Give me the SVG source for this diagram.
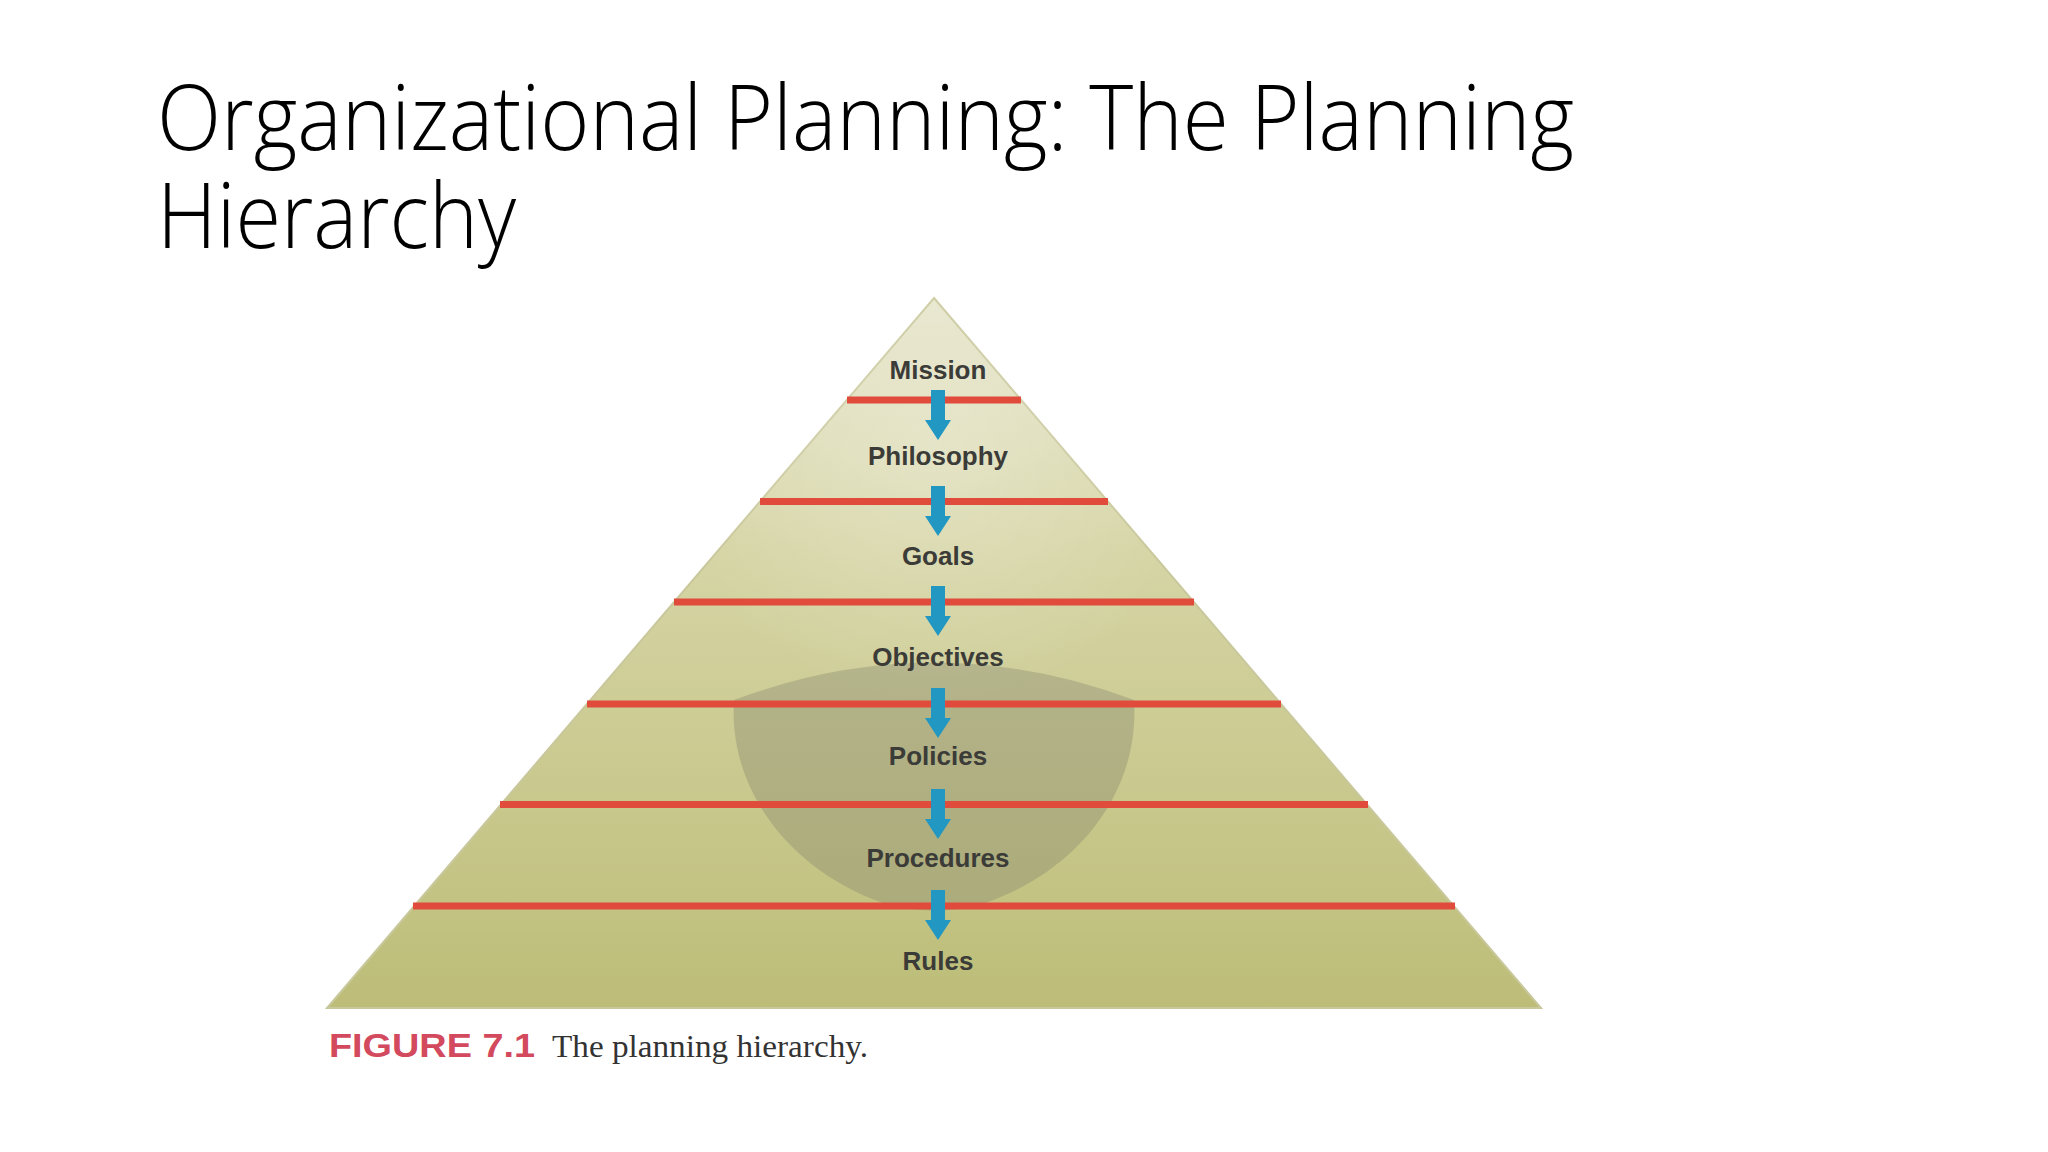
<svg xmlns="http://www.w3.org/2000/svg" width="2048" height="1152" viewBox="0 0 2048 1152">
<defs>
  <linearGradient id="pyr" x1="0" y1="298" x2="0" y2="1008" gradientUnits="userSpaceOnUse">
    <stop offset="0" stop-color="#e6e5cb"/>
    <stop offset="0.35" stop-color="#d6d5a6"/>
    <stop offset="1" stop-color="#bdbd78"/>
  </linearGradient>
  <radialGradient id="glow" cx="934" cy="450" r="260" gradientUnits="userSpaceOnUse">
    <stop offset="0" stop-color="#ffffff" stop-opacity="0.25"/>
    <stop offset="1" stop-color="#ffffff" stop-opacity="0"/>
  </radialGradient>
  <path id="arr" d="M -7 0 H 7 V 30 H 13 L 0 50 L -13 30 H -7 Z"/>
  <filter id="soft" x="-5%" y="-5%" width="110%" height="110%"><feGaussianBlur stdDeviation="0.6"/></filter>
</defs>
<style>
  .title{font-family:"Open Sans","Liberation Sans",sans-serif;font-weight:300;font-size:90px;fill:#000}
  .lbl{font-family:"Liberation Sans",Arial,sans-serif;font-weight:bold;font-size:26px;fill:#3b3b38;text-anchor:middle}
  .red{stroke:#e04b3a;stroke-width:7}
  .arrow{fill:#2197c2}
  .fig{font-family:"Liberation Sans",Arial,sans-serif;font-weight:bold;font-size:33px;fill:#d3495d}
  .cap{font-family:"Liberation Serif","Times New Roman",serif;font-size:31px;fill:#333}
</style>
<rect width="2048" height="1152" fill="#ffffff"/>
<g id="title">
  <text class="title" x="157" y="150" textLength="1417" lengthAdjust="spacingAndGlyphs">Organizational Planning: The Planning</text>
  <text class="title" x="157" y="248" textLength="359" lengthAdjust="spacingAndGlyphs">Hierarchy</text>
</g>
<g id="pyramid" filter="url(#soft)">
  <polygon points="934,298 1541,1008 327,1008" fill="url(#pyr)" stroke="#c9c89c" stroke-width="2"/>
  <ellipse cx="934" cy="470" rx="250" ry="230" fill="url(#glow)"/>
  <path d="M 734 700 Q 934 625 1134 700 C 1140 790 1080 870 985 903 Q 934 918 883 903 C 790 870 728 790 734 700 Z" fill="#7c7b6a" fill-opacity="0.33"/>
  <g id="bands">
    <line class="red" x1="847" y1="400" x2="1021" y2="400"/>
    <line class="red" x1="760" y1="501.5" x2="1108" y2="501.5"/>
    <line class="red" x1="674" y1="602" x2="1194" y2="602"/>
    <line class="red" x1="587" y1="704" x2="1281" y2="704"/>
    <line class="red" x1="500" y1="804.5" x2="1368" y2="804.5"/>
    <line class="red" x1="413" y1="906" x2="1455" y2="906"/>
  </g>
</g>
<g id="connectors" class="arrow" filter="url(#soft)">
  <use href="#arr" x="938" y="390"/>
  <use href="#arr" x="938" y="486"/>
  <use href="#arr" x="938" y="586"/>
  <use href="#arr" x="938" y="688"/>
  <use href="#arr" x="938" y="789"/>
  <use href="#arr" x="938" y="890"/>
</g>
<g id="node-mission"><text class="lbl" x="938" y="379">Mission</text></g>
<g id="node-philosophy"><text class="lbl" x="938" y="465">Philosophy</text></g>
<g id="node-goals"><text class="lbl" x="938" y="565">Goals</text></g>
<g id="node-objectives"><text class="lbl" x="938" y="666">Objectives</text></g>
<g id="node-policies"><text class="lbl" x="938" y="765">Policies</text></g>
<g id="node-procedures"><text class="lbl" x="938" y="867">Procedures</text></g>
<g id="node-rules"><text class="lbl" x="938" y="970">Rules</text></g>
<g id="caption">
  <text class="fig" x="329" y="1057" textLength="206" lengthAdjust="spacingAndGlyphs">FIGURE 7.1</text>
  <text class="cap" x="552" y="1057" textLength="316" lengthAdjust="spacingAndGlyphs">The planning hierarchy.</text>
</g>
</svg>
